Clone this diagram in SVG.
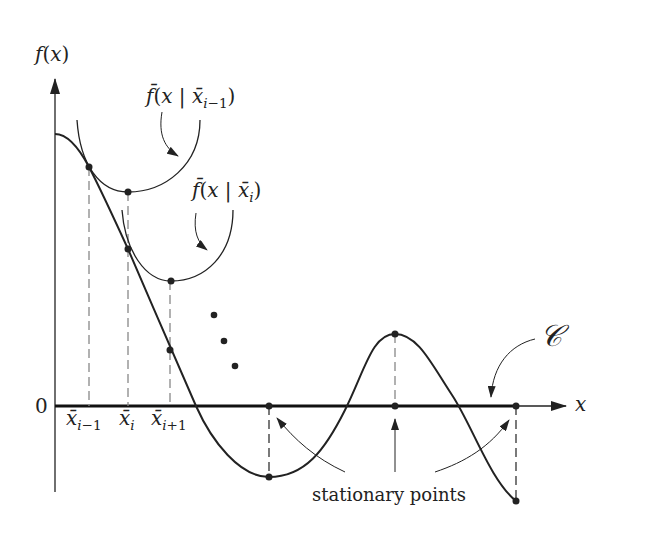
<svg xmlns="http://www.w3.org/2000/svg" width="655" height="541" viewBox="0 0 655 541">
<style>
.curve{fill:none;stroke:#222;stroke-width:2}
.thin{fill:none;stroke:#222;stroke-width:1.3}
.dash{fill:none;stroke:#333;stroke-width:1.3;stroke-dasharray:9,5}
.dashg{fill:none;stroke:#888;stroke-width:1.3;stroke-dasharray:9,5}
.ptr{fill:none;stroke:#222;stroke-width:1}
.dot{fill:#222}
.m{font-style:italic;font-size:20px;fill:#222}
.r{font-style:normal;font-size:20px;fill:#222}
.s{font-size:13.5px}
</style>
<defs>
<marker id="ah" markerWidth="12" markerHeight="8" refX="11" refY="4" orient="auto" markerUnits="userSpaceOnUse">
<path d="M0,0 L12,4 L0,8 Z" fill="#222"/>
</marker>
<marker id="axh" markerWidth="16" markerHeight="10" refX="15" refY="5" orient="auto" markerUnits="userSpaceOnUse">
<path d="M0,0 L16,5 L0,10 Z" fill="#222"/>
</marker>
</defs>
<g id="axes">
<line x1="55" y1="492" x2="55" y2="79" stroke="#222" stroke-width="1.3" marker-end="url(#axh)"/>
<line x1="55" y1="406" x2="516" y2="406" stroke="#111" stroke-width="3"/>
<line x1="516" y1="406" x2="566" y2="406" stroke="#222" stroke-width="1.3" marker-end="url(#axh)"/>
</g>
<g id="connectors">
<line class="dashg" x1="89" y1="167" x2="89" y2="406"/>
<line class="dashg" x1="128" y1="192" x2="128" y2="406"/>
<line class="dashg" x1="170" y1="281" x2="170" y2="406"/>
<line class="dash" x1="269" y1="406" x2="269" y2="477"/>
<line class="dashg" x1="395" y1="334" x2="395" y2="406"/>
<line class="dash" x1="516" y1="406" x2="516" y2="501"/>
<path class="ptr" d="M162,112 C158,135 165,148 178,156" marker-end="url(#ah)"/>
<path class="ptr" d="M196,213 C193,232 198,243 207,250" marker-end="url(#ah)"/>
<path class="ptr" d="M535,339 C510,345 493,365 491,397" marker-end="url(#ah)"/>
<path class="ptr" d="M345,472 C315,458 295,440 277,418" marker-end="url(#ah)"/>
<line class="ptr" x1="395" y1="472" x2="395" y2="419" marker-end="url(#ah)"/>
<path class="ptr" d="M435,472 C465,462 490,447 509,420" marker-end="url(#ah)"/>
</g>
<g id="curve-f">
<path class="curve" d="M55,134 C67,134 79,148 89,167 C99,186 112,214 128,249 C150,300 180,370 196,406 C212,442 240,477 269,477 C305,477 325,450 345,410 C365,370 372,334 395,334 C418,334 432,365 452,395 C472,425 490,480 516,501"/>
</g>
<g id="approx-1">
<path class="thin" d="M77,120 C80,165 100,192 128,192 C165,192 200,165 200,120"/>
</g>
<g id="approx-2">
<path class="thin" d="M122,210 C125,250 145,281 171,281 C205,281 233,255 233,210"/>
</g>
<g id="points">
<circle class="dot" cx="89" cy="167" r="3.5"/>
<circle class="dot" cx="128" cy="192" r="3.5"/>
<circle class="dot" cx="128" cy="249" r="3.5"/>
<circle class="dot" cx="171" cy="281" r="3.5"/>
<circle class="dot" cx="170" cy="350" r="3.5"/>
<circle class="dot" cx="269" cy="406" r="3.5"/>
<circle class="dot" cx="269" cy="477" r="3.5"/>
<circle class="dot" cx="395" cy="334" r="3.5"/>
<circle class="dot" cx="395" cy="406" r="3.5"/>
<circle class="dot" cx="516" cy="406" r="3.5"/>
<circle class="dot" cx="516" cy="501" r="3.5"/>
<circle class="dot" cx="214" cy="315" r="3.3"/>
<circle class="dot" cx="224" cy="341" r="3.3"/>
<circle class="dot" cx="235" cy="366" r="3.3"/>
</g>
<g id="labels" font-family="'DejaVu Serif', serif">
<text class="m" x="35" y="61">f<tspan class="r">(</tspan>x<tspan class="r">)</tspan></text>
<text class="r" x="35" y="413">0</text>
<text class="m" x="575" y="411">x</text>
<text class="m" x="540" y="346" style="font-size:30px">𝒞</text>
<text class="m" x="146" y="103">f̄<tspan class="r">(</tspan>x <tspan class="r">|</tspan> x̄<tspan class="s" dy="5">i</tspan><tspan class="s r">−1</tspan><tspan class="r" dy="-5">)</tspan></text>
<text class="m" x="192" y="197">f̄<tspan class="r">(</tspan>x <tspan class="r" fill="#8b1a2a">|</tspan> x̄<tspan class="s" dy="5">i</tspan><tspan class="r" dy="-5">)</tspan></text>
<text class="m" x="66" y="425">x̄<tspan class="s" dy="5">i</tspan><tspan class="s r">−1</tspan></text>
<text class="m" x="119" y="425">x̄<tspan class="s" dy="5">i</tspan></text>
<text class="m" x="151" y="425">x̄<tspan class="s" dy="5">i</tspan><tspan class="s r">+1</tspan></text>
<text class="r" x="389" y="501" text-anchor="middle" style="font-size:18px">stationary points</text>
</g>
</svg>
